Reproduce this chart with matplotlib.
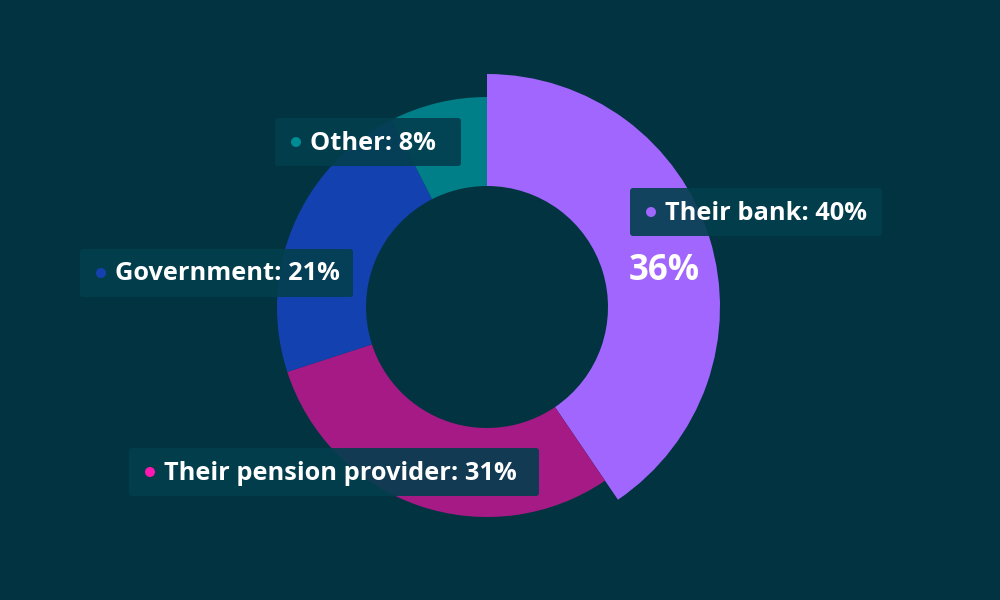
import matplotlib.pyplot as plt
from matplotlib.patches import FancyBboxPatch, Circle

categories = ["Their bank", "Their pension provider", "Government", "Other"]
shares = [40.5, 29.5, 22.5, 7.5]
label_pct = ["40%", "31%", "21%", "8%"]
highlight_pct = "36%"

colors = ["#a066fe", "#a51a85", "#1342b0", "#007f89"]
dot_colors = ["#a066fe", "#ff17b1", "#1342b0", "#008a92"]
bg = "#013440"

# layout in pixels (y measured from top of the image)
W, H = 1000, 600
cx, cy = 487, 307
r_out, r_in, r_big = 210, 121, 233
# box: left, top, right, bottom
boxes = [(630, 188, 882, 236), (129, 448, 539, 496), (80, 249, 353, 297), (275, 118, 461, 166)]

fig = plt.figure(figsize=(10, 6), dpi=100, facecolor=bg)
ax = fig.add_axes([0, 0, 1, 1])
ax.set_facecolor(bg)
ax.set_xlim(0, W)
ax.set_ylim(0, H)
ax.set_aspect("equal")
ax.axis("off")

wedges, _ = ax.pie(shares, colors=colors, startangle=90, counterclock=False,
                   radius=r_out, center=(cx, H - cy),
                   wedgeprops=dict(width=r_out - r_in, linewidth=0))
# the bank slice sticks out further
wedges[0].set_radius(r_big)
wedges[0].set_width(r_big - r_in)
ax.set_xlim(0, W)
ax.set_ylim(0, H)

font = "Open Sans"
for i, (l, t, r, b) in enumerate(boxes):
    box = FancyBboxPatch((l, H - b), r - l, b - t,
                         boxstyle="round,pad=0,rounding_size=3",
                         facecolor="#033f4e", edgecolor="none", alpha=0.91, zorder=3)
    ax.add_patch(box)
    ymid = H - (t + b) / 2
    ax.add_patch(Circle((l + 21, ymid), 5, facecolor=dot_colors[i], edgecolor="none", zorder=4))
    ax.text(l + 35, ymid - 1, f"{categories[i]}: {label_pct[i]}", color="white",
            fontsize=18.3, fontweight="bold", family=font, va="center", ha="left", zorder=5)

ax.text(629, H - 271, highlight_pct, color="white", fontsize=25, fontweight="bold",
        family=font, va="center", ha="left", zorder=5)

fig.savefig("out.png", dpi=100, facecolor=bg)
